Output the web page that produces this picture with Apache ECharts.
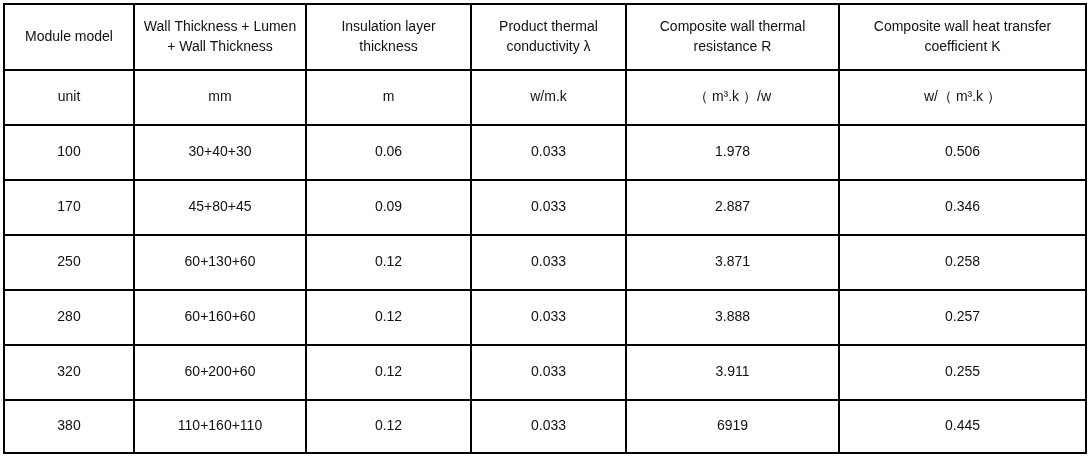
<!DOCTYPE html>
<html><head><meta charset="utf-8">
<script src="https://cdn.jsdelivr.net/npm/echarts@6/dist/echarts.min.js"></script>
<style>html,body{margin:0;background:#fff}#main{width:1092px;height:456px}</style>
</head><body><div id="main"></div>
<script>
var headers = ['Module model', 'Wall Thickness + Lumen\n+ Wall Thickness', 'Insulation layer\nthickness',
    'Product thermal\nconductivity λ', 'Composite wall thermal\nresistance R', 'Composite wall heat transfer\ncoefficient K'];
var units = ['unit', 'mm', 'm', 'w/m.k', '（ m³.k ）/w', 'w/（ m³.k ）'];
var models = ['100', '170', '250', '280', '320', '380'];
var walls = ['30+40+30', '45+80+45', '60+130+60', '60+160+60', '60+200+60', '110+160+110'];
var insulation = ['0.06', '0.09', '0.12', '0.12', '0.12', '0.12'];
var conductivity = ['0.033', '0.033', '0.033', '0.033', '0.033', '0.033'];
var resistance = ['1.978', '2.887', '3.871', '3.888', '3.911', '6919'];
var coefficient = ['0.506', '0.346', '0.258', '0.257', '0.255', '0.445'];

// table layout (pixel edges)
var colEdges = [4, 134, 306, 471, 626, 839, 1086];
var rowEdges = [4, 70, 125, 180, 235, 290, 345, 400, 453];

var cells = [];
headers.forEach(function (t, c) { cells.push([c, 0, t]); });
units.forEach(function (t, c) { cells.push([c, 1, t]); });
models.forEach(function (m, i) {
    [m, walls[i], insulation[i], conductivity[i], resistance[i], coefficient[i]].forEach(function (t, c) {
        cells.push([c, i + 2, t]);
    });
});

var chart = echarts.init(document.getElementById('main'));
chart.setOption({
    animation: false,
    grid: {left: 0, right: 0, top: 0, bottom: 0},
    xAxis: {type: 'value', min: 0, max: 1092, show: false},
    yAxis: {type: 'value', min: 0, max: 456, inverse: true, show: false},
    series: [{
        type: 'custom',
        data: cells,
        renderItem: function (params, api) {
            var c = api.value(0), r = api.value(1);
            var p0 = api.coord([colEdges[c], rowEdges[r]]);
            var p1 = api.coord([colEdges[c + 1], rowEdges[r + 1]]);
            return {
                type: 'group',
                children: [{
                    type: 'rect',
                    shape: {x: p0[0], y: p0[1], width: p1[0] - p0[0], height: p1[1] - p0[1]},
                    style: {fill: '#fff', stroke: '#000', lineWidth: 2}
                }, {
                    type: 'text',
                    style: {
                        text: cells[params.dataIndex][2],
                        x: (p0[0] + p1[0]) / 2, y: (p0[1] + p1[1]) / 2,
                        align: 'center', verticalAlign: 'middle',
                        font: '14px "Liberation Sans", Arial, sans-serif',
                        lineHeight: 20, fill: '#111'
                    }
                }]
            };
        }
    }]
});
</script></body></html>
